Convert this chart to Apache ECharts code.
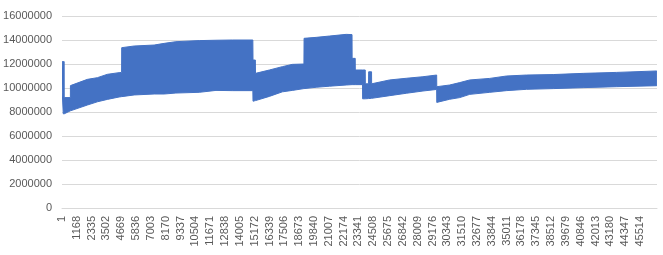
<!DOCTYPE html>
<html>
<head>
<meta charset="utf-8">
<script src="https://cdn.jsdelivr.net/npm/echarts@6/dist/echarts.min.js"></script>
<style>
  html, body { margin: 0; padding: 0; background: #fff; }
  #chart { width: 663px; height: 255px; }
</style>
</head>
<body>
<div id="chart"></div>
<script>
// 点数据：x 为序号（从0开始），lo/hi 为波动带的下沿/上沿（单位：百万）
var xIndex = [0, 20, 100, 170, 175, 660, 665, 1996, 2784, 3573, 4496, 4693, 4700,
  5679, 7257, 8046, 8969, 10806, 12124, 13410, 15027, 15040, 15224, 15235,
  16328, 17354, 18142, 19050, 19060, 20012, 21061, 22378, 22836, 22845,
  23088, 23095, 23664, 23670, 23877, 23885, 24137, 24145, 24374, 24380,
  25794, 27112, 28421, 29501, 29510, 30527, 31315, 32104, 33682, 34999,
  36577, 38675, 41041, 43676, 46831];
var lowM = [10.4, 9.6, 7.85, 7.85, 7.85, 8.1, 8.1, 8.58, 8.85, 9.05, 9.25, 9.28, 9.28,
  9.42, 9.5, 9.5, 9.58, 9.64, 9.8, 9.78, 9.78, 8.9, 8.95, 8.95,
  9.3, 9.68, 9.8, 9.95, 9.95, 10.06, 10.15, 10.25, 10.28, 10.28,
  10.28, 10.28, 10.28, 9.1, 9.1, 9.1, 9.12, 9.12, 9.14, 9.14,
  9.36, 9.56, 9.75, 9.88, 8.8, 9.06, 9.2, 9.47, 9.64, 9.78,
  9.89, 9.95, 10.03, 10.11, 10.19];
var highM = [11.6, 12.2, 12.2, 12.2, 9.2, 9.2, 10.2, 10.72, 10.86, 11.14, 11.28, 11.3, 13.36,
  13.5, 13.58, 13.72, 13.86, 13.95, 13.98, 14.0, 14.0, 12.33, 12.33, 11.22,
  11.5, 11.78, 11.97, 12.0, 14.14, 14.22, 14.33, 14.47, 14.45, 12.47,
  12.47, 11.5, 11.5, 11.5, 11.5, 10.35, 10.35, 11.35, 11.35, 10.35,
  10.67, 10.81, 10.94, 11.08, 10.11, 10.25, 10.45, 10.67, 10.8, 11.0,
  11.08, 11.12, 11.22, 11.3, 11.42];

// 横轴刻度标签
var xTickLabels = [1, 1168, 2335, 3502, 4669, 5836, 7003, 8170, 9337, 10504,
  11671, 12838, 14005, 15172, 16339, 17506, 18673, 19840, 21007, 22174,
  23341, 24508, 25675, 26842, 28009, 29176, 30343, 31510, 32677, 33844,
  35011, 36178, 37345, 38512, 39679, 40846, 42013, 43180, 44347, 45514];
var tickStep = 1167;

var bandData = [];
for (var i = 0; i < xIndex.length; i++) {
  bandData.push([xIndex[i], lowM[i] * 1e6, highM[i] * 1e6]);
}

var chart = echarts.init(document.getElementById('chart'));
var blue = '#4472C4';

// 用一个多边形画出上下沿之间的波动带
function renderBand(params, api) {
  if (params.dataIndex !== 0) return;
  var pts = [];
  for (var i = 0; i < bandData.length; i++) {
    pts.push(api.coord([bandData[i][0], bandData[i][2]]));
  }
  for (var j = bandData.length - 1; j >= 0; j--) {
    pts.push(api.coord([bandData[j][0], bandData[j][1]]));
  }
  return {
    type: 'polygon',
    shape: { points: pts },
    style: { fill: blue, stroke: blue, lineWidth: 1 }
  };
}

var option = {
  animation: false,
  textStyle: { fontFamily: 'Liberation Sans, Arial, sans-serif' },
  grid: { left: 62, right: 6, top: 16, bottom: 47 },
  xAxis: {
    type: 'value',
    min: 0,
    max: 46850,
    interval: tickStep,
    axisLine: { show: true, lineStyle: { color: '#D9D9D9' } },
    axisTick: { show: false },
    splitLine: { show: false },
    axisLabel: {
      rotate: 90,
      margin: 8,
      fontSize: 11,
      color: '#595959',
      showMaxLabel: false,
      formatter: function (v) {
        var k = Math.round(v / tickStep);
        return xTickLabels[k] !== undefined ? String(xTickLabels[k]) : '';
      }
    }
  },
  yAxis: {
    type: 'value',
    min: 0,
    max: 16000000,
    interval: 2000000,
    axisLine: { show: false },
    axisTick: { show: false },
    splitLine: { lineStyle: { color: '#D9D9D9', width: 1 } },
    axisLabel: {
      fontSize: 11, color: '#595959', margin: 10,
      formatter: function (v) { return String(v); }
    }
  },
  series: [
    {
      type: 'custom',
      renderItem: renderBand,
      clip: true,
      encode: { x: 0, y: [1, 2] },
      data: bandData
    }
  ]
};
chart.setOption(option);
</script>
</body>
</html>
